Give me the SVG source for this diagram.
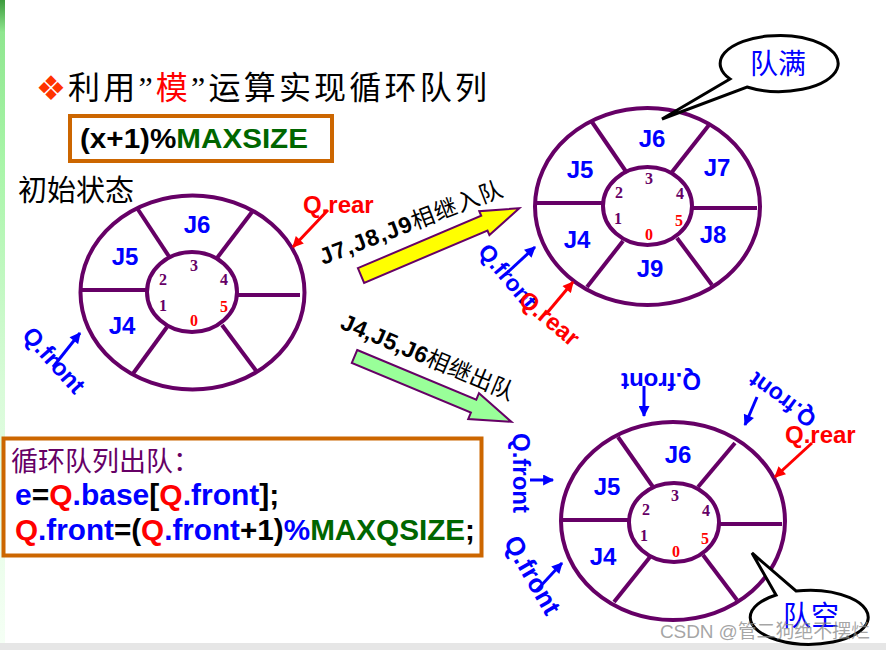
<svg xmlns="http://www.w3.org/2000/svg" width="886" height="650" viewBox="0 0 886 650">
<defs>
<linearGradient id="bar" x1="0" y1="0" x2="0" y2="1">
<stop offset="0" stop-color="#3d9b3d"/>
<stop offset="0.05" stop-color="#8fe68f"/>
<stop offset="0.25" stop-color="#a8f5a8"/>
<stop offset="0.6" stop-color="#d8fbd8"/>
<stop offset="1" stop-color="#f5fff5"/>
</linearGradient>
<marker id="ah-red" viewBox="0 0 10 10" refX="9" refY="5" markerWidth="12" markerHeight="11" markerUnits="userSpaceOnUse" orient="auto"><path d="M0,0 L10,5 L0,10 z" fill="#ff0000"/></marker>
<marker id="ah-blue" viewBox="0 0 10 10" refX="9" refY="5" markerWidth="12" markerHeight="11" markerUnits="userSpaceOnUse" orient="auto"><path d="M0,0 L10,5 L0,10 z" fill="#0000ff"/></marker>
<style>
.ring{fill:none;stroke:#660066;stroke-width:4}
.spoke{stroke:#660066;stroke-width:4;fill:none}
.j{font-family:"Liberation Sans",Arial,sans-serif;font-weight:bold;font-size:24px;fill:#0000ff;text-anchor:middle}
.n{font-family:"Liberation Serif","Times New Roman",serif;font-weight:bold;font-size:16px;fill:#660066;text-anchor:middle}
.nr{fill:#ff0000}
.lbl{font-family:"Liberation Sans",Arial,sans-serif;font-weight:bold}
.blue{fill:#0000ff}
.red{fill:#ff0000}
.blk{fill:#000000}
.grn{fill:#006600}
.cjk{font-family:"Noto Sans CJK SC","Noto Sans CJK JP",sans-serif;font-weight:normal}
.ar{stroke:#ff0000;stroke-width:3;fill:none;marker-end:url(#ah-red)}
.ab{stroke:#0000ff;stroke-width:3;fill:none;marker-end:url(#ah-blue)}
.box{fill:none;stroke:#cc6600;stroke-width:4}
.bubble{fill:#ffffff;stroke:#000000;stroke-width:3;stroke-linejoin:miter}
</style>
</defs>
<rect x="0" y="0" width="886" height="650" fill="#ffffff"/>
<rect x="0" y="0" width="5" height="643" fill="url(#bar)"/>
<rect x="0" y="643" width="886" height="7" fill="#e6e6e6"/>

<g id="title">
<text x="51" y="100" font-family="'DejaVu Sans',sans-serif" font-size="34" fill="#ff3300" text-anchor="middle">❖</text>
<text x="68" y="99" class="cjk" font-size="32" fill="#000" textLength="419" lengthAdjust="spacing">利用<tspan font-family="'Liberation Serif',serif">”</tspan><tspan fill="#ff0000">模</tspan><tspan font-family="'Liberation Serif',serif">”</tspan>运算实现循环队列</text>
</g>

<g id="formula">
<rect x="70" y="116" width="262" height="45" class="box"/>
<text x="80" y="148" class="lbl" font-size="28" textLength="228" lengthAdjust="spacingAndGlyphs"><tspan class="blk">(x+1)%</tspan><tspan class="grn">MAXSIZE</tspan></text>
</g>

<g id="initial-label">
<text x="18" y="201" class="cjk" font-size="29" fill="#000">初始状态</text>
</g>

<g id="ring-initial">
<ellipse cx="192.5" cy="292.5" rx="112" ry="97" class="ring"/>
<ellipse cx="192" cy="292" rx="45" ry="40" class="ring"/>
<line x1="80" y1="290" x2="147" y2="290" class="spoke"/>
<line x1="235" y1="295" x2="300" y2="295" class="spoke"/>
<line x1="137" y1="208" x2="170" y2="258" class="spoke"/>
<line x1="252" y1="212" x2="217" y2="258" class="spoke"/>
<line x1="167" y1="327" x2="132" y2="375" class="spoke"/>
<line x1="222" y1="325" x2="257" y2="372" class="spoke"/>
<text x="197" y="233" class="j">J6</text>
<text x="125" y="265" class="j">J5</text>
<text x="122" y="334" class="j">J4</text>
<text x="194" y="271" class="n">3</text>
<text x="163" y="285" class="n">2</text>
<text x="224" y="285" class="n">4</text>
<text x="163" y="311" class="n">1</text>
<text x="224" y="312" class="n nr">5</text>
<text x="194" y="326" class="n nr">0</text>
</g>

<g id="ring-full">
<ellipse cx="647.5" cy="206.5" rx="112.5" ry="98.5" class="ring"/>
<ellipse cx="647.5" cy="206" rx="44.5" ry="39" class="ring"/>
<line x1="535" y1="203" x2="603" y2="203" class="spoke"/>
<line x1="692" y1="208" x2="757" y2="208" class="spoke"/>
<line x1="592" y1="122" x2="627" y2="173" class="spoke"/>
<line x1="709" y1="125" x2="672" y2="172" class="spoke"/>
<line x1="623" y1="241" x2="587" y2="287" class="spoke"/>
<line x1="677" y1="238" x2="712" y2="285" class="spoke"/>
<text x="652" y="147" class="j">J6</text>
<text x="580" y="178" class="j">J5</text>
<text x="717" y="176" class="j">J7</text>
<text x="577" y="248" class="j">J4</text>
<text x="713" y="243" class="j">J8</text>
<text x="650" y="277" class="j">J9</text>
<text x="649" y="184" class="n">3</text>
<text x="619" y="198" class="n">2</text>
<text x="680" y="199" class="n">4</text>
<text x="618" y="224" class="n">1</text>
<text x="679" y="226" class="n nr">5</text>
<text x="649" y="240" class="n nr">0</text>
</g>

<g id="ring-empty">
<ellipse cx="673" cy="521" rx="112" ry="99" class="ring"/>
<ellipse cx="674" cy="522.5" rx="45" ry="39.5" class="ring"/>
<line x1="561" y1="520" x2="629" y2="520" class="spoke"/>
<line x1="719" y1="524" x2="782" y2="524" class="spoke"/>
<line x1="618" y1="437" x2="653" y2="487" class="spoke"/>
<line x1="735" y1="443" x2="698" y2="487" class="spoke"/>
<line x1="650" y1="557" x2="614" y2="602" class="spoke"/>
<line x1="703" y1="555" x2="737" y2="600" class="spoke"/>
<text x="678" y="463" class="j">J6</text>
<text x="607" y="495" class="j">J5</text>
<text x="603" y="565" class="j">J4</text>
<text x="675" y="501" class="n">3</text>
<text x="646" y="515" class="n">2</text>
<text x="706" y="516" class="n">4</text>
<text x="644" y="541" class="n">1</text>
<text x="705" y="544" class="n nr">5</text>
<text x="676" y="557" class="n nr">0</text>
</g>

<g id="enqueue-arrow">
<polygon transform="translate(361,275.5) rotate(-23)" points="0,-8 134,-8 134,-13 172,0 134,13 134,8 0,8" fill="#ffff00" stroke="#660066" stroke-width="2"/>
<text transform="translate(323,265) rotate(-21)" class="lbl" font-size="23" textLength="194" lengthAdjust="spacing"><tspan class="blk">J7,J8,J9</tspan><tspan class="cjk blk">相继入队</tspan></text>
</g>

<g id="dequeue-arrow">
<polygon transform="translate(354.5,356.5) rotate(22.6)" points="0,-7 129,-7 129,-14 170,0 129,14 129,7 0,7" fill="#99ff99" stroke="#660066" stroke-width="2"/>
<text transform="translate(339,328) rotate(23)" class="lbl" font-size="23" textLength="186" lengthAdjust="spacing"><tspan class="blk">J4,J5,J6</tspan><tspan class="cjk blk">相继出队</tspan></text>
</g>

<g id="bubble-full">
<path d="M730,79 L662,119 L747,87 A59,28 0 1 0 730,79 Z" class="bubble"/>
<text x="778" y="74" class="cjk" font-size="28" fill="#0000ff" text-anchor="middle">队满</text>
</g>

<g id="bubble-empty">
<path d="M776,595 L752,553 L796,591 A59,27 0 1 1 776,595 Z" class="bubble"/>
<text x="811" y="626" class="cjk" font-size="28" fill="#0000ff" text-anchor="middle">队空</text>
</g>

<g id="connectors">
<line x1="328" y1="210" x2="293" y2="247" class="ar"/>
<line x1="53" y1="367" x2="80" y2="333" class="ab"/>
<line x1="508" y1="272" x2="535" y2="247" class="ab"/>
<line x1="547" y1="313" x2="573" y2="282" class="ar"/>
<line x1="644" y1="386" x2="644" y2="416" class="ab"/>
<line x1="757" y1="397" x2="745" y2="425" class="ab"/>
<line x1="812" y1="443" x2="775" y2="477" class="ar"/>
<line x1="530" y1="480" x2="553" y2="480" class="ab"/>
<line x1="537" y1="590" x2="562" y2="563" class="ab"/>
</g>

<g id="pointer-labels">
<text x="303" y="213" class="lbl red" font-size="24">Q.rear</text>
<text transform="translate(21,336) rotate(48)" class="lbl blue" font-size="24">Q.front</text>
<text transform="translate(477,252) rotate(50)" class="lbl blue" font-size="23">Q.front</text>
<text transform="translate(517,302) rotate(40)" class="lbl red" font-size="24">Q.rear</text>
<text transform="translate(661,373) rotate(180)" class="lbl blue" font-size="24" text-anchor="middle">Q.front</text>
<text transform="translate(818,416) rotate(216)" class="lbl blue" font-size="23">Q.front</text>
<text x="785" y="443" class="lbl red" font-size="24">Q.rear</text>
<text transform="translate(513,433) rotate(90)" class="lbl blue" font-size="24">Q.front</text>
<text transform="translate(503,542) rotate(60)" class="lbl blue" font-size="26">Q.front</text>
</g>

<g id="dequeue-code">
<rect x="3.5" y="438.5" width="478" height="117" class="box" stroke-width="3.5"/>
<text x="11" y="471" class="cjk" font-size="27" fill="#660066">循环队列出队：</text>
<text x="15" y="505" class="lbl" font-size="30"><tspan class="blue">e</tspan><tspan class="blk">=</tspan><tspan class="red">Q</tspan><tspan class="blue">.base</tspan><tspan class="blk">[</tspan><tspan class="red">Q</tspan><tspan class="blue">.front</tspan><tspan class="blk">];</tspan></text>
<text x="15" y="540" class="lbl" font-size="30" textLength="460" lengthAdjust="spacingAndGlyphs"><tspan class="red">Q</tspan><tspan class="blue">.front</tspan><tspan class="blk">=(</tspan><tspan class="red">Q</tspan><tspan class="blue">.front</tspan><tspan class="blk">+1)</tspan><tspan class="blue">%</tspan><tspan class="grn">MAXQSIZE</tspan><tspan class="blk">;</tspan></text>
</g>

<g id="watermark">
<text x="660" y="638" font-family="'Liberation Sans',Arial,'Noto Sans CJK SC',sans-serif" font-size="19" fill="#888888" fill-opacity="0.75" textLength="210" lengthAdjust="spacing">CSDN @管二狗绝不摆烂</text>
</g>
</svg>
